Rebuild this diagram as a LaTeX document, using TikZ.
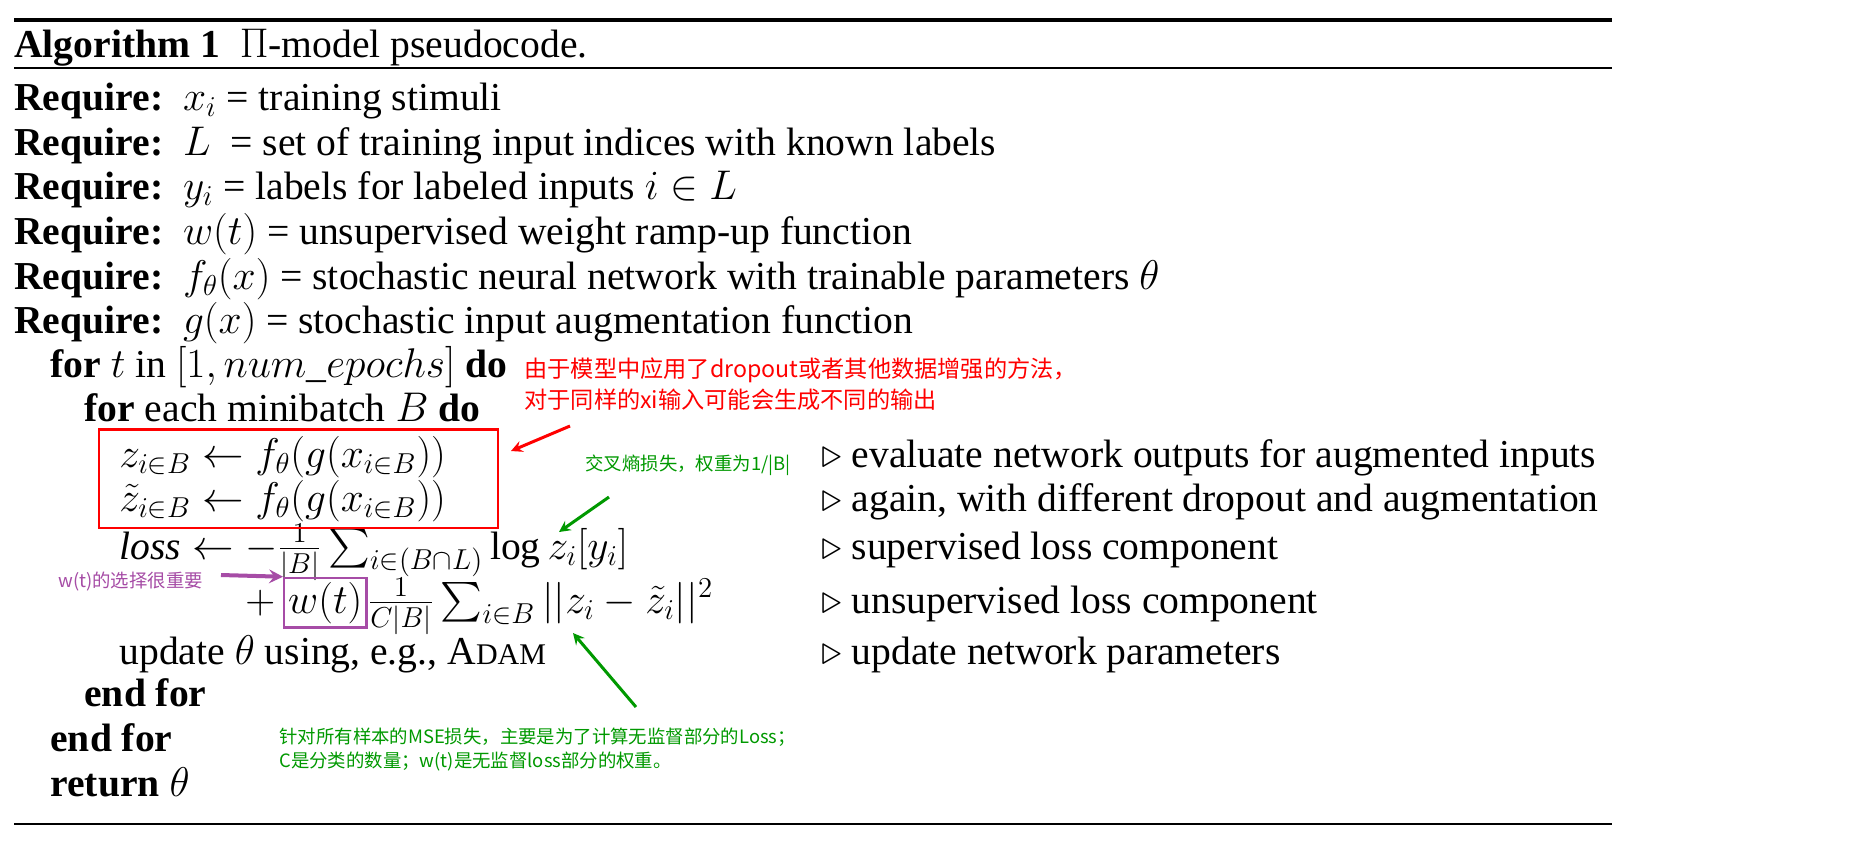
\documentclass[tikz,border=0pt]{standalone}
\usepackage{fontspec}
\usepackage{amsmath,amssymb}
\usetikzlibrary{fit}
\setmainfont{Liberation Serif}
\newfontfamily\cjk{Noto Sans CJK SC}
\tikzset{x=0.5pt,y=-0.5pt,
 ln/.style={anchor=base west,inner sep=0pt,font=\fontsize{19.8}{22}\selectfont},
 note/.style={anchor=base west,inner sep=0pt,font=\cjk\fontsize{9.2}{11}\selectfont},
 rule/.style={line width=1pt}}
\newcommand{\req}{\textbf{Require:}\ \ }
\begin{document}
\begin{tikzpicture}
\useasboundingbox (0,0) rectangle (1872,848);
\fill[white] (0,0) rectangle (1872,848);
\coordinate (r1a) at (14,20); \coordinate (r1b) at (1612,20);
\coordinate (r2a) at (14,68); \coordinate (r2b) at (1612,68);
\coordinate (r3a) at (14,824); \coordinate (r3b) at (1612,824);
\draw[line width=1.6pt] (r1a)--(r1b);
\draw[rule] (r2a)--(r2b);
\draw[rule] (r3a)--(r3b);
\node[ln] (t) at (14,57) {\textbf{Algorithm 1}\ \ $\Pi$-model pseudocode.};
\node[ln] (q1) at (14,110) {\req $x_i$ = training stimuli};
\node[ln] (q2) at (14,155) {\req $L$\ \ = set of training input indices with known labels};
\node[ln] (q3) at (14,199) {\req $y_i$ = labels for labeled inputs $i\in L$};
\node[ln] (q4) at (14,244) {\req $w(t)$ = unsupervised weight ramp-up function};
\node[ln] (q5) at (14,289) {\req $f_\theta(x)$ = stochastic neural network with trainable parameters $\theta$};
\node[ln] (q6) at (14,333) {\req $g(x)$ = stochastic input augmentation function};
\node[ln] (f1) at (50,377) {\textbf{for} $t$ in $[1,num\_epochs]$ \textbf{do}};
\node[ln] (f2) at (84,421) {\textbf{for} each minibatch $B$ \textbf{do}};
\node[ln] (z1) at (119,467) {$z_{i\in B}\leftarrow f_\theta(g(x_{i\in B}))$};
\node[ln] (z2) at (119,511) {$\tilde z_{i\in B}\leftarrow f_\theta(g(x_{i\in B}))$};
\node[ln] (l1) at (119,559) {$\mathit{loss}\leftarrow-\frac{1}{|B|}\sum_{i\in(B\cap L)}\log z_i[y_i]$};
\node[ln] (pl) at (245,613) {$+$};
\node[ln,draw=violet!70,line width=1.2pt,inner sep=2pt,anchor=base west] (w) at (283,613) {$w(t)$};
\node[ln] (l2) at (w.base east) {$\frac{1}{C|B|}\sum_{i\in B}||z_i-\tilde z_i||^2$};
\node[ln] (up) at (119,664) {update $\theta$ using, e.g., A{\fontsize{15}{16}\selectfont DAM}};
\node[ln] (e1) at (84,706) {\textbf{end for}};
\node[ln] (e2) at (50,751) {\textbf{end for}};
\node[ln] (rt) at (50,796) {\textbf{return} $\theta$};
\node[ln] (c1) at (821,467) {$\triangleright$ evaluate network outputs for augmented inputs};
\node[ln] (c2) at (821,511) {$\triangleright$ again, with different dropout and augmentation};
\node[ln] (c3) at (821,559) {$\triangleright$ supervised loss component};
\node[ln] (c4) at (821,613) {$\triangleright$ unsupervised loss component};
\node[ln] (c5) at (821,664) {$\triangleright$ update network parameters};
% annotations
\coordinate (rbR) at (478,490);
\node[draw=red,line width=1.2pt,fit=(z1)(z2)(rbR),inner xsep=10pt,inner ysep=3pt] (rb) {};
\node[note,text=red,font=\cjk\fontsize{11.6}{13}\selectfont] (rn1) at (524,377) {由于模型中应用了dropout或者其他数据增强的方法，};
\node[note,text=red,font=\cjk\fontsize{11.6}{13}\selectfont] (rn2) at (524,408) {对于同样的xi输入可能会生成不同的输出};
\coordinate (ra) at (570,426); \coordinate (rt2) at (511,451);
\draw[red,line width=1.5pt,-stealth] (ra)--(rt2);
\node[note,text=green!60!black] (gn) at (585,470) {交叉熵损失，权重为1/|B|};
\coordinate (ga) at (609,497); \coordinate (gt) at (559,532);
\draw[green!60!black,line width=1.5pt,-stealth] (ga)--(gt);
\node[note,text=violet!70] (pn) at (58,587) {w(t)的选择很重要};
\coordinate (pa) at (221,575);
\draw[violet!70,line width=2pt,-stealth] (pa)--(w.north west);
\coordinate (ba) at (636,707); \coordinate (bt) at (573,633);
\draw[green!60!black,line width=1.5pt,-stealth] (ba)--(bt);
\node[note,text=green!60!black] (b1) at (279,743) {针对所有样本的MSE损失，主要是为了计算无监督部分的Loss；};
\node[note,text=green!60!black] (b2) at (279,767) {C是分类的数量；w(t)是无监督loss部分的权重。};
\end{tikzpicture}
\end{document}
